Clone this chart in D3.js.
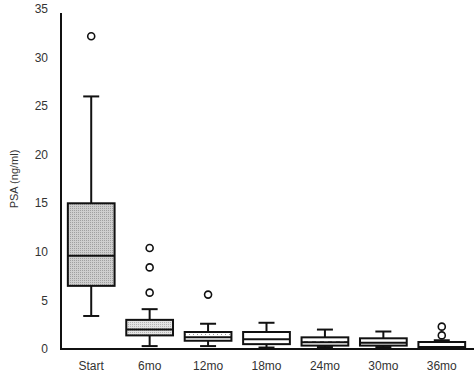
<!DOCTYPE html>
<html>
<head>
<meta charset="utf-8">
<script src="https://cdn.jsdelivr.net/npm/d3@7"></script>
<style>
  body { margin: 0; background: #fff; }
  svg { display: block; font-family: "Liberation Sans", Arial, sans-serif; }
</style>
</head>
<body>
<div id="chart"></div>
<script>
// Box summaries (PSA, ng/ml)
const groups = ['Start', '6mo', '12mo', '18mo', '24mo', '30mo', '36mo'];
const whiskLow = [3.4, 0.3, 0.3, 0.15, 0.2, 0.2, 0.05];
const q1 = [6.5, 1.4, 0.85, 0.5, 0.35, 0.35, 0.1];
const median = [9.6, 2.0, 1.2, 1.0, 0.7, 0.65, 0.2];
const q3 = [15.0, 3.0, 1.75, 1.75, 1.2, 1.1, 0.72];
const whiskHigh = [26.0, 4.1, 2.6, 2.7, 2.0, 1.8, 0.9];
const outliers = [[32.2], [5.8, 8.4, 10.4], [5.6], [], [], [], [1.4, 2.3]];
const fills = ['url(#dotsDark)', 'url(#dotsLight)', 'url(#dotsSparse)', '#fff', 'url(#dashes)', '#fff', '#fff'];
const yTicks = [0, 5, 10, 15, 20, 25, 30, 35];

const W = 474, H = 374;
const svg = d3.select('#chart').append('svg').attr('width', W).attr('height', H);

// fill patterns
const defs = svg.append('defs');
const p1 = defs.append('pattern').attr('id', 'dotsDark').attr('patternUnits', 'userSpaceOnUse')
  .attr('width', 2).attr('height', 2);
p1.append('rect').attr('width', 2).attr('height', 2).attr('fill', '#cfcfcf');
p1.append('rect').attr('width', 1).attr('height', 1).attr('fill', '#a0a0a0');
const p2 = defs.append('pattern').attr('id', 'dotsLight').attr('patternUnits', 'userSpaceOnUse')
  .attr('width', 2).attr('height', 2);
p2.append('rect').attr('width', 2).attr('height', 2).attr('fill', '#e4e4e4');
p2.append('rect').attr('width', 1).attr('height', 1).attr('fill', '#b4b4b4');
const p3 = defs.append('pattern').attr('id', 'dotsSparse').attr('patternUnits', 'userSpaceOnUse')
  .attr('width', 4).attr('height', 3);
p3.append('rect').attr('width', 4).attr('height', 3).attr('fill', '#fff');
p3.append('rect').attr('x', 1).attr('y', 1).attr('width', 1).attr('height', 1).attr('fill', '#999');
const p4 = defs.append('pattern').attr('id', 'dashes').attr('patternUnits', 'userSpaceOnUse')
  .attr('width', 8).attr('height', 4);
p4.append('rect').attr('width', 8).attr('height', 4).attr('fill', '#fff');
p4.append('rect').attr('x', 0).attr('y', 1).attr('width', 4).attr('height', 1).attr('fill', '#999');

const x = d3.scaleBand().domain(groups).range([62, 471]).paddingInner(0.2).paddingOuter(0.1);
const y = d3.scaleLinear().domain([0, 35]).range([349, 9]);
const bw = x.bandwidth();
const cap = 16;

// y tick labels (no tick marks)
svg.append('g').selectAll('text').data(yTicks).enter().append('text')
  .attr('x', 48).attr('y', d => y(d)).attr('dy', '0.35em')
  .attr('text-anchor', 'end').attr('font-size', 12).attr('fill', '#333')
  .text(d => d);

svg.append('text')
  .attr('transform', `translate(18,${y(17.5)}) rotate(-90)`)
  .attr('text-anchor', 'middle').attr('font-size', 11).attr('fill', '#333')
  .text('PSA (ng/ml)');

// x labels
svg.append('g').selectAll('text').data(groups).enter().append('text')
  .attr('x', d => x(d) + bw / 2).attr('y', 370)
  .attr('text-anchor', 'middle').attr('font-size', 12).attr('fill', '#333')
  .text(d => d);

const g = svg.append('g').attr('stroke', '#111').attr('stroke-width', 2);

groups.forEach((name, i) => {
  const cx = x(name) + bw / 2;
  // whiskers
  g.append('line').attr('x1', cx).attr('x2', cx).attr('y1', y(q3[i])).attr('y2', y(whiskHigh[i]));
  g.append('line').attr('x1', cx).attr('x2', cx).attr('y1', y(q1[i])).attr('y2', y(whiskLow[i]));
  g.append('line').attr('x1', cx - cap / 2).attr('x2', cx + cap / 2)
    .attr('y1', y(whiskHigh[i])).attr('y2', y(whiskHigh[i]));
  g.append('line').attr('x1', cx - cap / 2).attr('x2', cx + cap / 2)
    .attr('y1', y(whiskLow[i])).attr('y2', y(whiskLow[i]));
  // box
  g.append('rect').attr('x', x(name)).attr('width', bw)
    .attr('y', y(q3[i])).attr('height', y(q1[i]) - y(q3[i]))
    .attr('fill', fills[i]);
  g.append('line').attr('x1', x(name)).attr('x2', x(name) + bw)
    .attr('y1', y(median[i])).attr('y2', y(median[i]));
  // outliers
  outliers[i].forEach(v => {
    g.append('circle').attr('cx', cx).attr('cy', y(v)).attr('r', 3.5)
      .attr('fill', '#fff').attr('stroke-width', 1.6);
  });
});

// axis lines
svg.append('line').attr('x1', 61).attr('x2', 61).attr('y1', 13).attr('y2', 350)
  .attr('stroke', '#111').attr('stroke-width', 2);
svg.append('line').attr('x1', 60).attr('x2', 474).attr('y1', 349).attr('y2', 349)
  .attr('stroke', '#111').attr('stroke-width', 2);
</script>
</body>
</html>
